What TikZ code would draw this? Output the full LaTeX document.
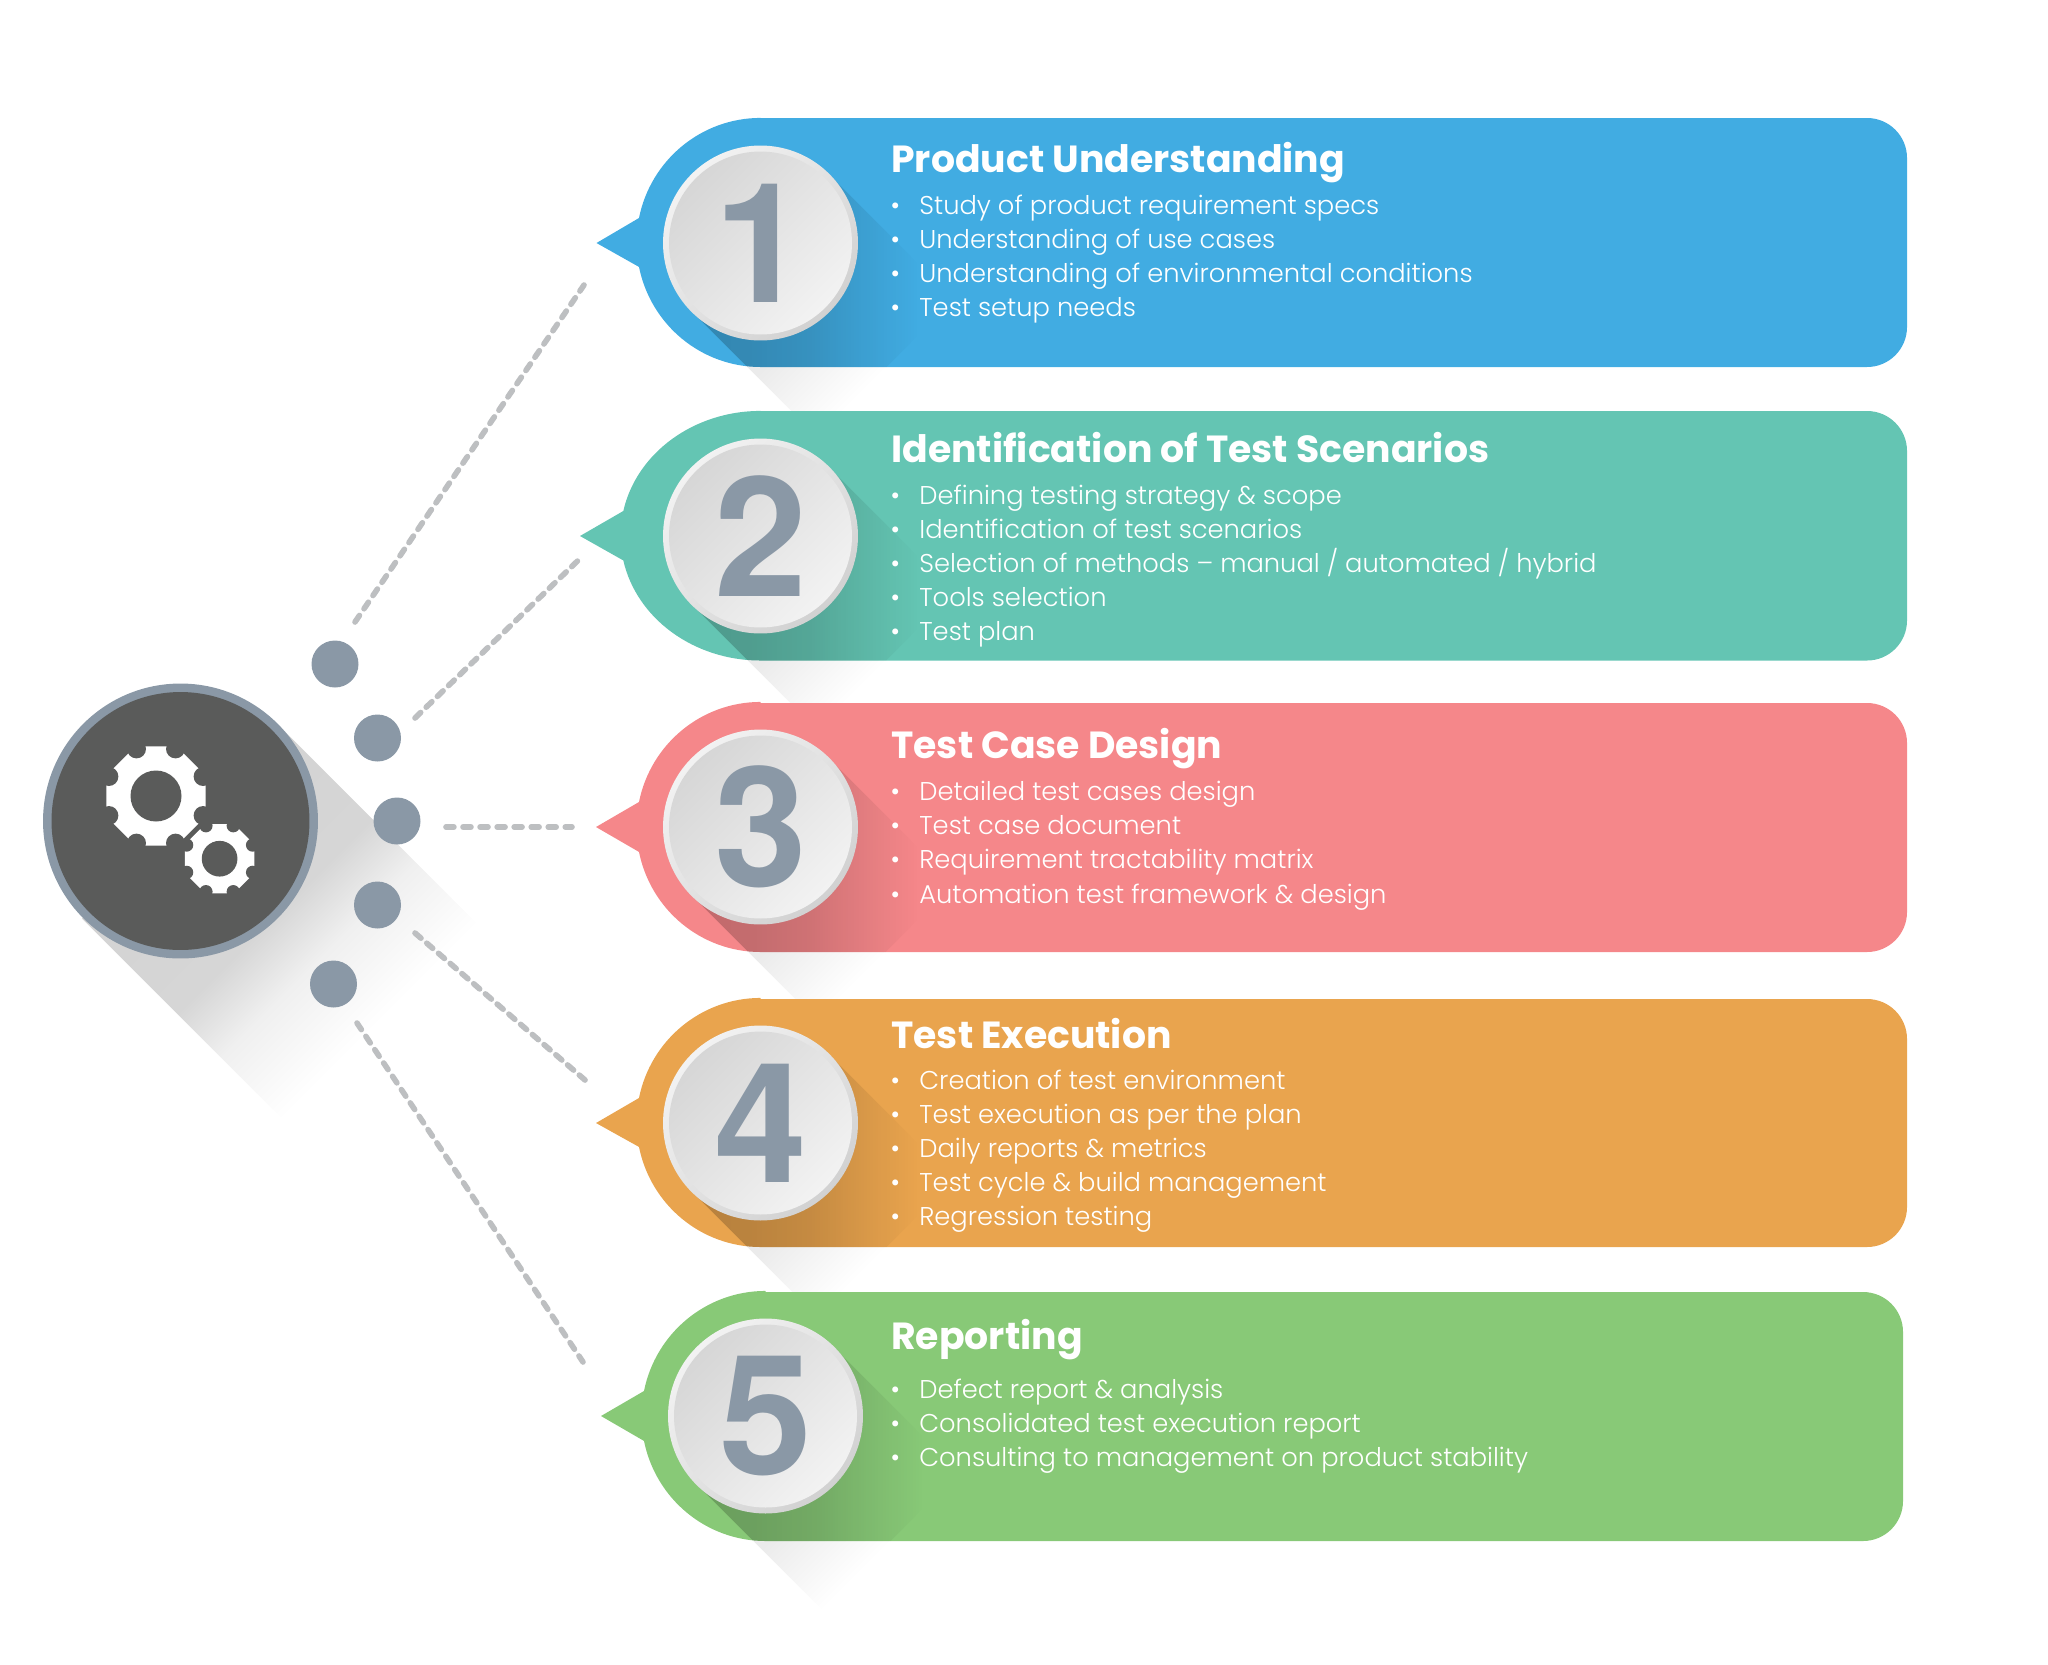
\documentclass[tikz,border=0pt]{standalone}
\usepackage{fontspec}
\usetikzlibrary{fadings, positioning}
\setmainfont{Poppins}
\newfontfamily\itemfont{Poppins Light}
\newfontfamily\digitfont{TeX Gyre Heros}

\definecolor{bandblue}{HTML}{41ACE2}
\definecolor{bandteal}{HTML}{64C5B3}
\definecolor{bandpink}{HTML}{F5878A}
\definecolor{bandorange}{HTML}{E9A44E}
\definecolor{bandgreen}{HTML}{88C977}
\definecolor{slategrey}{HTML}{8A98A6}
\definecolor{hubdark}{HTML}{5A5B5A}
\definecolor{dashgrey}{HTML}{BDBFC1}

% only the middle 50bp of a fading falls on the bounding box of the path
\pgfdeclarehorizontalshading{hubramp}{100bp}{color(0bp)=(transparent!80); color(46bp)=(transparent!84); color(53bp)=(transparent!94); color(63bp)=(transparent!100); color(100bp)=(transparent!100)}
\pgfdeclarehorizontalshading{bandramp}{100bp}{color(0bp)=(transparent!78); color(36bp)=(transparent!80); color(48bp)=(transparent!85); color(58bp)=(transparent!93); color(68bp)=(transparent!100); color(100bp)=(transparent!100)}
\pgfdeclarehorizontalshading{dropramp}{100bp}{color(0bp)=(transparent!92); color(50bp)=(transparent!92); color(67bp)=(transparent!100); color(100bp)=(transparent!100)}
\pgfdeclarefading{hubfade}{\pgfuseshading{hubramp}}
\pgfdeclarefading{bandfade}{\pgfuseshading{bandramp}}
\pgfdeclarefading{dropfade}{\pgfuseshading{dropramp}}

\tikzset{
  rimdisc/.style={circle, inner sep=0pt, minimum size=3.9cm, shade, top color=white!95!black, bottom color=black!18, shading angle=45},
  facedisc/.style={circle, inner sep=0pt, minimum size=3.66cm, shade, top color=black!16, bottom color=black!5, shading angle=45,
    text=slategrey, font=\digitfont\fontsize{95}{95}\selectfont\bfseries},
  dotnode/.style={circle, fill=slategrey, inner sep=0pt, minimum size=0.94cm},
  link/.style={dashgrey, line width=3.2pt, line cap=round, dash pattern=on 4.5pt off #1},
  titletext/.style={anchor=base west, inner sep=0pt, text=white, font=\fontsize{21.5}{24}\selectfont\bfseries},
  itemtext/.style={anchor=base west, inner sep=0pt, text=white, font=\itemfont\fontsize{14.65}{17}\selectfont,
    execute at begin node=\llap{\textbullet\hspace{11pt}}},
  gearpic/.pic={
    \fill[white] (22.5:53.6) -- (67.5:53.6) -- (112.5:53.6) -- (157.5:53.6) -- (202.5:53.6) -- (247.5:53.6) -- (292.5:53.6) -- (337.5:53.6) -- cycle;
    \foreach \a in {22.5,67.5,...,337.5}
      \fill[hubdark] (\a:51) circle (9.5);
    \fill[hubdark] (0,0) circle (25.5);
  }
}

\newcommand{\bandpath}{(\cx,\ya) [rounded corners=0.8cm] -- (\rgt,\ya) -- (\rgt,\yb) [sharp corners] -- (\cx,\yb)
  arc[start angle=90, end angle=168.5, x radius=\rx, y radius=125] -- (\tip,\cy) -- (\cx-\rx*0.98,\cy-25)
  arc[start angle=191.5, end angle=270, x radius=\rx, y radius=125] -- cycle}
\newcommand{\shadowpath}{(\cx+68.6,\cy-68.6) -- (\cx+68.6+125,\cy-68.6+125) -- (\cx-68.6+125,\cy+68.6+125) -- (\cx-68.6,\cy+68.6) -- cycle}

\begin{document}
\begin{tikzpicture}[x=0.02cm, y=-0.02cm]
  \useasboundingbox (0,0) rectangle (2048,1664);

  % hub with its long shadow
  \fill[black, path fading=hubfade, fading angle=-45] (277.6,723.4) -- (517.6,963.4) -- (322.4,1158.6) -- (82.4,918.6) -- cycle;
  \node[circle, fill=slategrey, inner sep=0pt, minimum size=5.5cm] (hub) at (180.5,821) {};
  \node[circle, fill=hubdark, inner sep=0pt, minimum size=5.16cm] (hubface) at (hub) {};
  \pic at (156,796) {gearpic};
  \pic[scale=0.7] at (219.6,858.7) {gearpic};

  % dots round the hub
  \node[dotnode] (dot1) at (335,664) {};
  \node[dotnode] (dot2) at (377.5,738) {};
  \node[dotnode] (dot3) at (397,821) {};
  \node[dotnode] (dot4) at (377.5,905) {};
  \node[dotnode] (dot5) at (333.5,984) {};

  % dashed links
  \coordinate (from1) at (355,622);  \coordinate (to1) at (584,285);
  \coordinate (from2) at (415,718);  \coordinate (to2) at (577.5,561);
  \coordinate (from3) at (446,827);  \coordinate (to3) at (572,827);
  \coordinate (from4) at (415,933);  \coordinate (to4) at (585,1080);
  \coordinate (from5) at (357,1023); \coordinate (to5) at (583,1362);
  \foreach \n/\gap in {1/4.61pt,2/4.36pt,3/5.2pt,4/4.33pt,5/4.61pt}
    \draw[link=\gap] (from\n) -- (to\n);

  % bands
  \foreach \num/\col/\cx/\cy/\rx/\tip/\ya/\yb/\rgt in {
    1/bandblue/760.5/243/124/596.5/118/367/1907,
    2/bandteal/760.5/536/140/580/411/660.5/1907,
    3/bandpink/760.5/827/124/596/703/952/1907,
    4/bandorange/760.5/1123/124/596/999/1247/1907,
    5/bandgreen/765.5/1416/124/601/1292/1541/1903}{
    \fill[black, path fading=dropfade, fading angle=-45] \shadowpath;
    \fill[\col] \bandpath;
    \begin{scope}
      \clip \bandpath;
      \fill[black, path fading=bandfade] \shadowpath;
    \end{scope}
    \node[rimdisc] (rim\num) at (\cx,\cy) {};
    \node[facedisc] (num\num) at (rim\num) {\num};
  }

  % texts
  \node[titletext] (title1) at (891,172) {Product Understanding};
  \foreach \txt [count=\n from 0] in {Study of product requirement specs, Understanding of use cases, Understanding of environmental conditions, Test setup needs}
    \node[itemtext] (itema\n) at (919,214+34.3*\n) {\txt};

  \node[titletext] (title2) at (891,462) {Identification of Test Scenarios};
  \foreach \txt [count=\n from 0] in {Defining testing strategy \& scope, Identification of test scenarios, Selection of methods – manual / automated / hybrid, Tools selection, Test plan}
    \node[itemtext] (itemb\n) at (919,504+34.2*\n) {\txt};

  \node[titletext] (title3) at (891,758) {Test Case Design};
  \foreach \txt [count=\n from 0] in {Detailed test cases design, Test case document, Requirement tractability matrix, Automation test framework \& design}
    \node[itemtext] (itemc\n) at (919,800.5+34.2*\n) {\txt};

  \node[titletext] (title4) at (891,1048) {Test Execution};
  \foreach \txt [count=\n from 0] in {Creation of test environment, Test execution as per the plan, Daily reports \& metrics, Test cycle \& build management, Regression testing}
    \node[itemtext] (itemd\n) at (919,1089+34.2*\n) {\txt};

  \node[titletext] (title5) at (891,1349) {Reporting};
  \foreach \txt [count=\n from 0] in {Defect report \& analysis, Consolidated test execution report, Consulting to management on product stability}
    \node[itemtext] (iteme\n) at (919,1398+34.2*\n) {\txt};
\end{tikzpicture}
\end{document}
